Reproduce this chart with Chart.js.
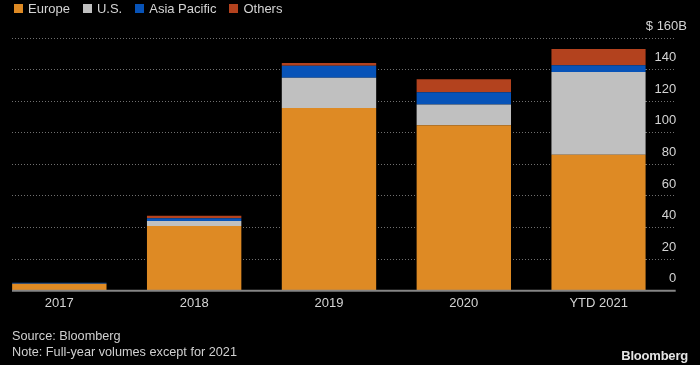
<!DOCTYPE html>
<html>
<head>
<meta charset="utf-8">
<script src="https://cdn.jsdelivr.net/npm/chart.js@4/dist/chart.umd.min.js"></script>
<style>
  html, body { margin: 0; padding: 0; background: #000; }
  #wrap { position: relative; width: 700px; height: 365px; background: #000; overflow: hidden;
          font-family: 'Liberation Sans', Arial, sans-serif; }
  #chart { position: absolute; left: 0; top: 0; }
  #legend { position: absolute; left: 14px; top: 0px; height: 17px; display: flex; align-items: center;
            font-size: 13px; color: #d4d4d4; white-space: nowrap; }
  #legend .item { display: flex; align-items: center; margin-right: 13px; }
  #legend .box { width: 9px; height: 9px; margin-right: 5px; }
  .foot { position: absolute; left: 12px; font-size: 12.7px; color: #d0d0d0; white-space: nowrap; }
  #logo { position: absolute; right: 12px; top: 348px; font-size: 13px; font-weight: bold; color: #e4e4e4; letter-spacing: -0.2px; }
</style>
</head>
<body>
<div id="wrap">
  <canvas id="chart" width="700" height="365"></canvas>
  <div id="legend"></div>
  <div class="foot" style="top:329px">Source: Bloomberg</div>
  <div class="foot" style="top:345px">Note: Full-year volumes except for 2021</div>
  <div id="logo">Bloomberg</div>
</div>
<script>
// ---- data ----
const categories = ['2017', '2018', '2019', '2020', 'YTD 2021'];
const seriesNames = ['Europe', 'U.S.', 'Asia Pacific', 'Others'];
const europe      = [4.4, 41.0, 115.6, 104.7, 86.0];
const us          = [0.0, 3.2, 19.2, 13.2, 52.4];
const asiaPacific = [0.6, 1.7, 7.6, 7.8, 4.3];
const others      = [0.0, 1.5, 1.7, 8.2, 10.4];
const yTickValues = [0, 20, 40, 60, 80, 100, 120, 140, 160];
const yTickText   = ['0', '20', '40', '60', '80', '100', '120', '140', '$ 160B'];

const colors = ['#DE8A24', '#C0C0C0', '#0753B8', '#B3421E'];
const seriesValues = [europe, us, asiaPacific, others];

// HTML legend
const legendEl = document.getElementById('legend');
seriesNames.forEach((name, i) => {
  const it = document.createElement('div');
  it.className = 'item';
  const b = document.createElement('div');
  b.className = 'box';
  b.style.background = colors[i];
  const t = document.createElement('span');
  t.textContent = name;
  it.appendChild(b); it.appendChild(t);
  legendEl.appendChild(it);
});

Chart.defaults.font.family = "'Liberation Sans', Arial, sans-serif";
Chart.defaults.font.size = 13;
Chart.defaults.color = '#d4d4d4';

const TICK_LEN = 30;

const baselinePlugin = {
  id: 'baseline',
  afterDatasetsDraw(chart) {
    const y = chart.scales.y.getPixelForValue(0);
    const ctx = chart.ctx;
    ctx.save();
    ctx.strokeStyle = '#858585';
    ctx.lineWidth = 2;
    ctx.beginPath();
    ctx.moveTo(chart.chartArea.left, y);
    ctx.lineTo(chart.chartArea.right + TICK_LEN, y);
    ctx.stroke();
    ctx.restore();
  }
};

new Chart(document.getElementById('chart'), {
  type: 'bar',
  data: {
    datasets: seriesNames.map((name, s) => ({
      label: name,
      data: seriesValues[s].map((v, i) => ({ x: i, y: v })),
      backgroundColor: colors[s],
      borderWidth: 0,
      barPercentage: 0.7,
      categoryPercentage: 1.0
    }))
  },
  options: {
    responsive: false,
    animation: false,
    layout: { padding: { left: 12, right: 13, top: 38, bottom: 54.3 } },
    plugins: { legend: { display: false }, tooltip: { enabled: false } },
    scales: {
      x: {
        type: 'linear',
        stacked: true,
        offset: false,
        min: -0.351,
        max: 4.349,
        afterBuildTicks: (scale) => { scale.ticks = categories.map((c, i) => ({ value: i })); },
        afterFit: (scale) => { scale.height = 20; },
        ticks: {
          callback: (value, index) => categories[index],
          padding: 5,
          maxRotation: 0,
          autoSkip: false,
          color: '#d4d4d4'
        },
        grid: { display: false, drawTicks: false },
        border: { display: false }
      },
      y: {
        position: 'right',
        stacked: true,
        min: 0,
        max: 160,
        afterBuildTicks: (scale) => { scale.ticks = yTickValues.map(v => ({ value: v })); },
        afterFit: (scale) => { scale.width = 41.3; },
        ticks: {
          callback: (value, index) => yTickText[index] + (index === yTickText.length - 1 ? '' : '\u2007\u2008'),
          crossAlign: 'far',
          padding: -30,
          labelOffset: -12,
          autoSkip: false,
          color: '#d4d4d4'
        },
        grid: {
          color: (ctx) => (ctx.tick && ctx.tick.value === 0) ? 'rgba(0,0,0,0)' : '#707070',
          tickColor: (ctx) => (ctx.tick && ctx.tick.value === 0) ? 'rgba(0,0,0,0)' : '#707070',
          lineWidth: 1,
          tickLength: TICK_LEN,
          tickBorderDash: [1, 2]
        },
        border: { display: false, dash: [1, 2] }
      }
    }
  },
  plugins: [baselinePlugin]
});
</script>
</body>
</html>
